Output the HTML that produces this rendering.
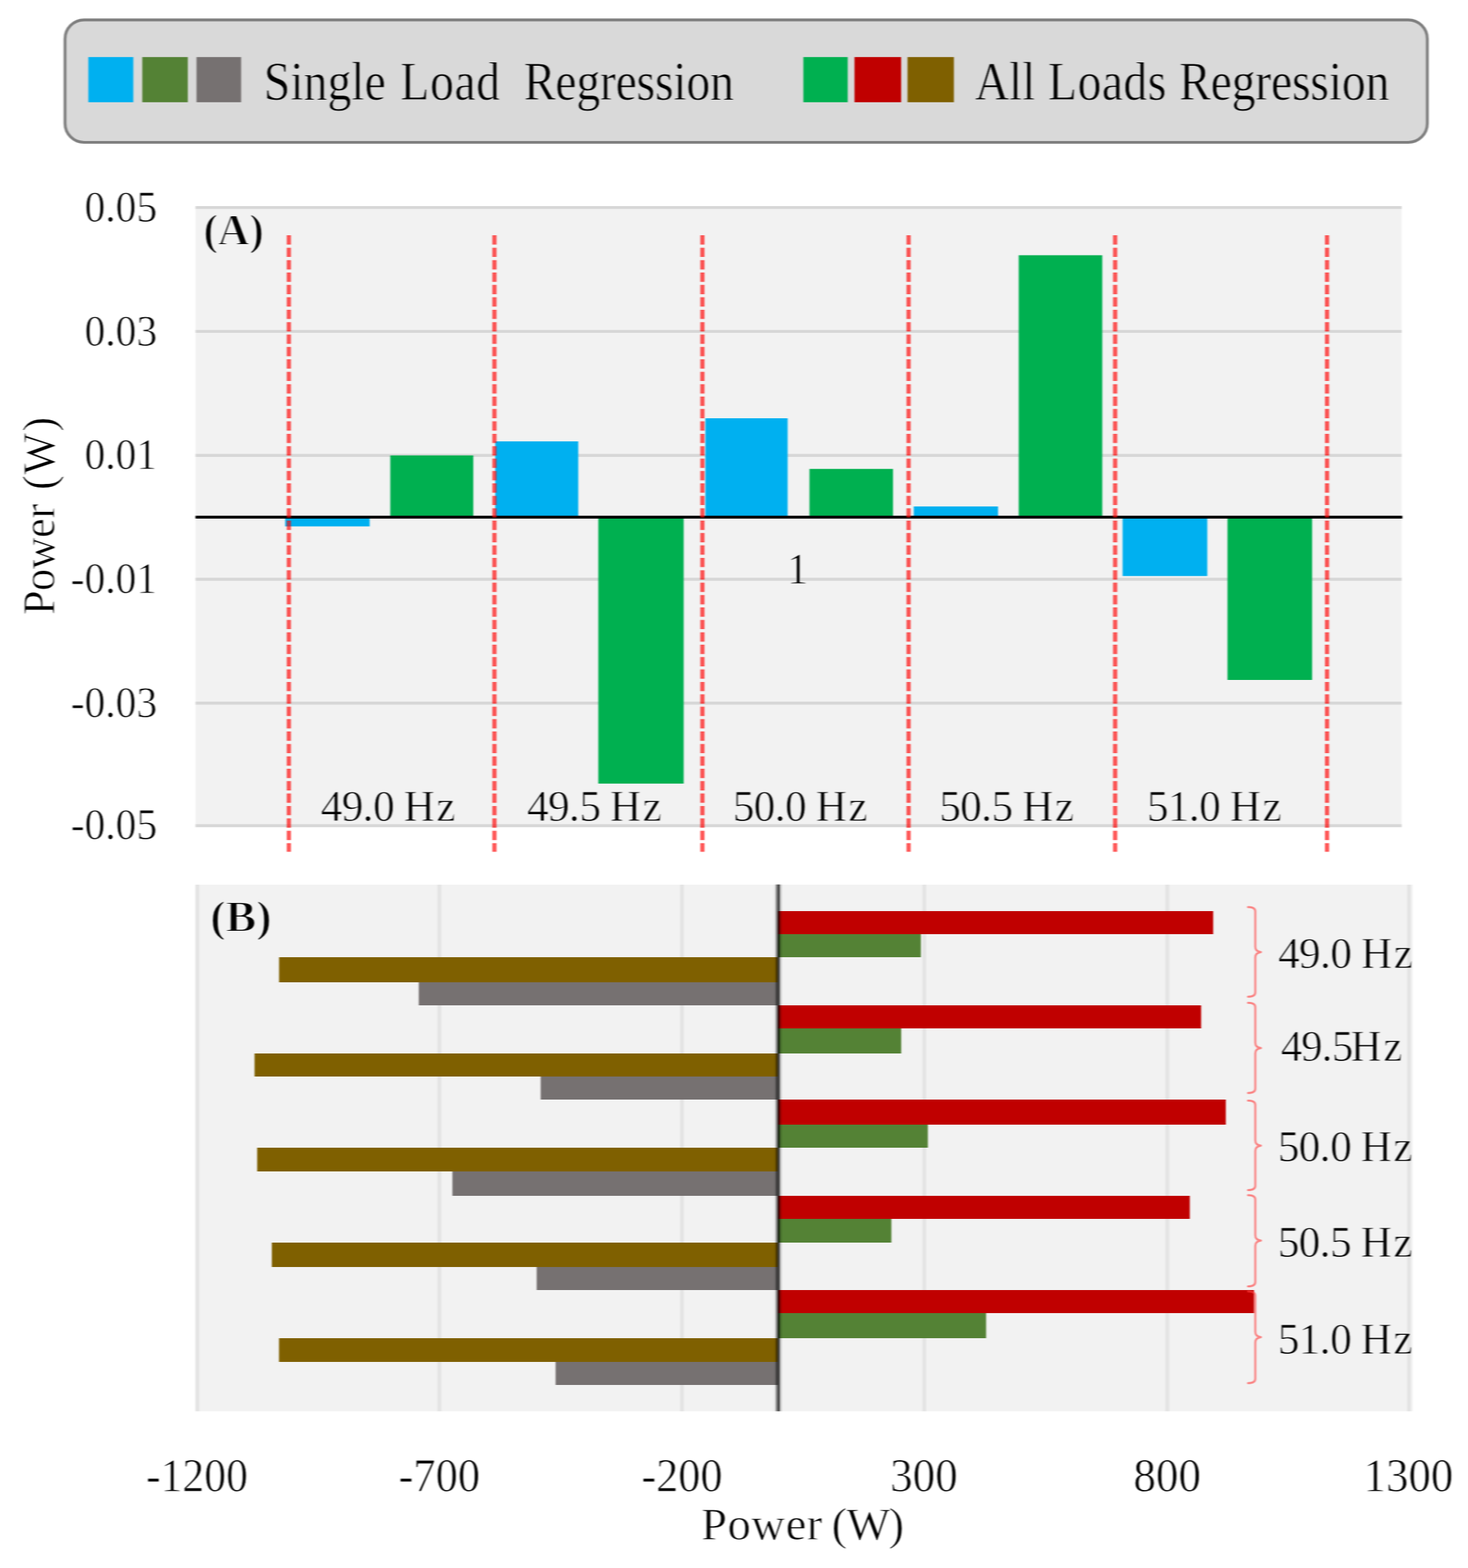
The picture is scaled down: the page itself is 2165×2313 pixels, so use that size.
<!DOCTYPE html>
<html lang="en">
<head>
<meta charset="utf-8">
<title>Single Load vs All Loads Regression</title>
<style>
html,body{margin:0;padding:0;background:#fff;}
body{width:2165px;height:2313px;overflow:hidden;}
svg text{white-space:pre;}
</style>
</head>
<body>
<svg width="2165" height="2313" viewBox="0 0 2165 2313" font-family="'Liberation Serif', serif" style="display:block">
<defs><filter id="soft" filterUnits="userSpaceOnUse" x="0" y="0" width="2165" height="2313" color-interpolation-filters="sRGB"><feGaussianBlur stdDeviation="1.25 0.55"/></filter></defs>
<g filter="url(#soft)">
<rect x="-10" y="-10" width="2185" height="2333" fill="#fff"/>
<rect x="95.9" y="29.4" width="2009.10" height="180.60" rx="28" ry="28" fill="#D9D9D9" stroke="#7F7F7F" stroke-width="4.2"/>
<rect x="130.30" y="84.20" width="66.30" height="66.60" fill="#00B0F0" />
<rect x="209.80" y="84.20" width="67.20" height="66.60" fill="#548235" />
<rect x="289.80" y="84.20" width="65.80" height="66.60" fill="#767171" />
<rect x="1184.80" y="84.20" width="65.40" height="66.60" fill="#00B050" />
<rect x="1260.20" y="84.20" width="68.80" height="66.60" fill="#C00000" />
<rect x="1338.40" y="84.20" width="68.40" height="66.60" fill="#7F6000" />
<text transform="translate(0,147.30) scale(0.8771,1)" x="443.47 488.13 510.44 550.58 590.73 613.04 648.68 672.97 723.19 764.29 800.78 841.88 841.88 880.80 933.75 969.00 1008.69 1035.13 1070.37 1101.27 1132.17 1154.23 1193.93" font-size="80.30" fill="#000" stroke="#D9D9D9" stroke-width="1.0" xml:space="preserve">Single Load  Regression</text>
<text transform="translate(0,147.30) scale(0.8752,1)" x="1642.72 1700.26 1722.40 1744.54 1765.95 1815.91 1856.81 1893.11 1934.01 1965.84 1986.99 2040.11 2075.46 2115.29 2141.81 2177.16 2208.15 2239.15 2261.27 2301.10" font-size="80.30" fill="#000" stroke="#D9D9D9" stroke-width="1.0" xml:space="preserve">All Loads Regression</text>
<rect x="288.30" y="306.10" width="1778.90" height="913.40" fill="#F2F2F2" />
<line x1="288.3" y1="306.1" x2="2067.2" y2="306.1" stroke="#D7D7D7" stroke-width="4.4"/>
<line x1="288.3" y1="488.9" x2="2067.2" y2="488.9" stroke="#D7D7D7" stroke-width="4.4"/>
<line x1="288.3" y1="671.7" x2="2067.2" y2="671.7" stroke="#D7D7D7" stroke-width="4.4"/>
<line x1="288.3" y1="854.5" x2="2067.2" y2="854.5" stroke="#D7D7D7" stroke-width="4.4"/>
<line x1="288.3" y1="1037.3" x2="2067.2" y2="1037.3" stroke="#D7D7D7" stroke-width="4.4"/>
<line x1="288.3" y1="1218.0" x2="2067.2" y2="1218.0" stroke="#D7D7D7" stroke-width="4.4"/>
<rect x="420.60" y="762.90" width="124.60" height="13.60" fill="#00B0F0" />
<rect x="575.60" y="671.80" width="122.40" height="91.10" fill="#00B050" />
<rect x="730.40" y="651.10" width="122.40" height="111.80" fill="#00B0F0" />
<rect x="882.40" y="762.90" width="125.90" height="393.00" fill="#00B050" />
<rect x="1040.30" y="617.00" width="121.30" height="145.90" fill="#00B0F0" />
<rect x="1193.80" y="691.70" width="123.20" height="71.20" fill="#00B050" />
<rect x="1347.60" y="747.10" width="124.30" height="15.80" fill="#00B0F0" />
<rect x="1502.40" y="376.50" width="123.20" height="386.40" fill="#00B050" />
<rect x="1655.60" y="762.90" width="124.90" height="86.80" fill="#00B0F0" />
<rect x="1810.30" y="762.90" width="124.80" height="240.10" fill="#00B050" />
<line x1="288.3" y1="762.9" x2="2068.2" y2="762.9" stroke="#000" stroke-width="4.4"/>
<line x1="426.0" y1="347.1" x2="426.0" y2="1256.5" stroke="#FF0000" stroke-opacity="0.66" stroke-width="6.2" stroke-dasharray="13.7 4.6"/>
<line x1="729.2" y1="347.1" x2="729.2" y2="1256.5" stroke="#FF0000" stroke-opacity="0.66" stroke-width="6.2" stroke-dasharray="13.7 4.6"/>
<line x1="1035.9" y1="347.1" x2="1035.9" y2="1256.5" stroke="#FF0000" stroke-opacity="0.66" stroke-width="6.2" stroke-dasharray="13.7 4.6"/>
<line x1="1340.0" y1="347.1" x2="1340.0" y2="1256.5" stroke="#FF0000" stroke-opacity="0.66" stroke-width="6.2" stroke-dasharray="13.7 4.6"/>
<line x1="1644.6" y1="347.1" x2="1644.6" y2="1256.5" stroke="#FF0000" stroke-opacity="0.66" stroke-width="6.2" stroke-dasharray="13.7 4.6"/>
<line x1="1957.1" y1="347.1" x2="1957.1" y2="1256.5" stroke="#FF0000" stroke-opacity="0.66" stroke-width="6.2" stroke-dasharray="13.7 4.6"/>
<text transform="translate(124.75,326.90) scale(0.9320,1)" font-size="65.60" fill="#000" stroke="#fff" stroke-width="1.0" >0.05</text>
<text transform="translate(124.75,509.70) scale(0.9320,1)" font-size="65.60" fill="#000" stroke="#fff" stroke-width="1.0" >0.03</text>
<text transform="translate(124.67,692.30) scale(0.9320,1)" font-size="65.60" fill="#000" stroke="#fff" stroke-width="1.0" >0.01</text>
<text transform="translate(104.35,875.10) scale(0.9320,1)" font-size="65.60" fill="#000" stroke="#fff" stroke-width="1.0" >-0.01</text>
<text transform="translate(104.42,1057.70) scale(0.9320,1)" font-size="65.60" fill="#000" stroke="#fff" stroke-width="1.0" >-0.03</text>
<text transform="translate(104.42,1238.40) scale(0.9320,1)" font-size="65.60" fill="#000" stroke="#fff" stroke-width="1.0" >-0.05</text>
<text transform="translate(0,1210.70) scale(0.9728,1)" x="486.31 518.02 549.72 565.58 597.28 611.96 661.57" font-size="65.60" fill="#000" stroke="#F2F2F2" stroke-width="1.0" xml:space="preserve">49.0 Hz</text>
<text transform="translate(0,1210.70) scale(0.9728,1)" x="799.11 830.81 862.52 878.37 910.08 924.76 974.36" font-size="65.60" fill="#000" stroke="#F2F2F2" stroke-width="1.0" xml:space="preserve">49.5 Hz</text>
<text transform="translate(0,1210.70) scale(0.9732,1)" x="1110.53 1142.22 1173.91 1189.76 1221.45 1236.13 1285.71" font-size="65.60" fill="#000" stroke="#F2F2F2" stroke-width="1.0" xml:space="preserve">50.0 Hz</text>
<text transform="translate(0,1210.70) scale(0.9732,1)" x="1423.38 1455.07 1486.76 1502.60 1534.29 1548.97 1598.55" font-size="65.60" fill="#000" stroke="#F2F2F2" stroke-width="1.0" xml:space="preserve">50.5 Hz</text>
<text transform="translate(0,1210.70) scale(0.9732,1)" x="1738.05 1769.75 1801.44 1817.28 1848.97 1863.65 1913.23" font-size="65.60" fill="#000" stroke="#F2F2F2" stroke-width="1.0" xml:space="preserve">51.0 Hz</text>
<text transform="translate(1160.74,861.00) scale(0.9385,1)" font-size="66.50" fill="#000" stroke="#F2F2F2" stroke-width="1.0" >1</text>
<text transform="translate(299.91,361.20) scale(0.9803,1)" font-size="65.60" font-weight="bold" fill="#000" stroke="#F2F2F2" stroke-width="1.9" >(A)</text>
<text transform="translate(80.40,0) rotate(-90) scale(0.9774,1)" x="-928.24 -891.82 -859.09 -811.80 -782.74 -760.94 -739.47 -716.53 -651.52" font-size="66.80" fill="#000" stroke="#fff" stroke-width="1.0" xml:space="preserve">Power (W)</text>
<rect x="288.20" y="1305.00" width="1795.20" height="776.80" fill="#F2F2F2" />
<line x1="291.1" y1="1305.0" x2="291.1" y2="2081.8" stroke="#E4E4E4" stroke-width="5.6"/>
<line x1="648.05" y1="1305.0" x2="648.05" y2="2081.8" stroke="#E4E4E4" stroke-width="5.6"/>
<line x1="1005.8" y1="1305.0" x2="1005.8" y2="2081.8" stroke="#E4E4E4" stroke-width="5.6"/>
<line x1="1363.2" y1="1305.0" x2="1363.2" y2="2081.8" stroke="#E4E4E4" stroke-width="5.6"/>
<line x1="1721.6" y1="1305.0" x2="1721.6" y2="2081.8" stroke="#E4E4E4" stroke-width="5.6"/>
<line x1="2078.0" y1="1305.0" x2="2078.0" y2="2081.8" stroke="#E4E4E4" stroke-width="5.6"/>
<rect x="1147.00" y="1344.00" width="642.20" height="34.00" fill="#C00000" />
<rect x="1147.00" y="1378.00" width="211.10" height="34.00" fill="#548235" />
<rect x="411.60" y="1412.00" width="735.40" height="37.00" fill="#7F6000" />
<rect x="617.60" y="1449.00" width="529.40" height="34.00" fill="#767171" />
<rect x="1147.00" y="1483.00" width="624.40" height="34.00" fill="#C00000" />
<rect x="1147.00" y="1517.00" width="182.10" height="37.00" fill="#548235" />
<rect x="375.40" y="1554.00" width="771.60" height="34.00" fill="#7F6000" />
<rect x="797.40" y="1588.00" width="349.60" height="34.00" fill="#767171" />
<rect x="1147.00" y="1622.00" width="660.80" height="37.00" fill="#C00000" />
<rect x="1147.00" y="1659.00" width="221.40" height="34.00" fill="#548235" />
<rect x="379.30" y="1693.00" width="767.70" height="35.00" fill="#7F6000" />
<rect x="667.20" y="1728.00" width="479.80" height="36.00" fill="#767171" />
<rect x="1147.00" y="1764.00" width="607.70" height="34.00" fill="#C00000" />
<rect x="1147.00" y="1798.00" width="167.60" height="35.00" fill="#548235" />
<rect x="400.90" y="1833.00" width="746.10" height="36.00" fill="#7F6000" />
<rect x="791.50" y="1869.00" width="355.50" height="34.00" fill="#767171" />
<rect x="1147.00" y="1903.00" width="702.40" height="34.00" fill="#C00000" />
<rect x="1147.00" y="1937.00" width="307.30" height="37.00" fill="#548235" />
<rect x="411.50" y="1974.00" width="735.50" height="35.00" fill="#7F6000" />
<rect x="819.40" y="2009.00" width="327.60" height="34.00" fill="#767171" />
<rect x="1141.10" y="1304.70" width="2.90" height="777.10" fill="#000" fill-opacity="0.04"/>
<rect x="1144.00" y="1304.70" width="3.00" height="777.10" fill="#000" fill-opacity="0.45"/>
<rect x="1147.00" y="1304.70" width="2.95" height="777.10" fill="#000" fill-opacity="0.75"/>
<rect x="1149.95" y="1304.70" width="2.95" height="777.10" fill="#000" fill-opacity="0.17"/>
<path d="M1840.6,1337.9 Q1851.3,1337.9 1851.3,1344.4 L1851.3,1396.4 Q1851.3,1403.4 1859.6,1404.4 Q1851.3,1405.4 1851.3,1412.4 L1851.3,1463.8 Q1851.3,1470.3 1840.6,1470.3" fill="none" stroke="#FF4040" stroke-opacity="0.62" stroke-width="3" stroke-linecap="round" stroke-linejoin="round"/>
<path d="M1840.6,1479.3 Q1851.3,1479.3 1851.3,1485.8 L1851.3,1538.0 Q1851.3,1545.0 1859.6,1546.0 Q1851.3,1547.0 1851.3,1554.0 L1851.3,1605.7 Q1851.3,1612.2 1840.6,1612.2" fill="none" stroke="#FF4040" stroke-opacity="0.62" stroke-width="3" stroke-linecap="round" stroke-linejoin="round"/>
<path d="M1840.6,1623.6 Q1851.3,1623.6 1851.3,1630.1 L1851.3,1681.9 Q1851.3,1688.9 1859.6,1689.9 Q1851.3,1690.9 1851.3,1697.9 L1851.3,1748.9 Q1851.3,1755.4 1840.6,1755.4" fill="none" stroke="#FF4040" stroke-opacity="0.62" stroke-width="3" stroke-linecap="round" stroke-linejoin="round"/>
<path d="M1840.6,1763.0 Q1851.3,1763.0 1851.3,1769.5 L1851.3,1822.0 Q1851.3,1829.0 1859.6,1830.0 Q1851.3,1831.0 1851.3,1838.0 L1851.3,1890.9 Q1851.3,1897.4 1840.6,1897.4" fill="none" stroke="#FF4040" stroke-opacity="0.62" stroke-width="3" stroke-linecap="round" stroke-linejoin="round"/>
<path d="M1840.6,1905.0 Q1851.3,1905.0 1851.3,1911.5 L1851.3,1964.4 Q1851.3,1971.4 1859.6,1972.4 Q1851.3,1973.4 1851.3,1980.4 L1851.3,2033.8 Q1851.3,2040.3 1840.6,2040.3" fill="none" stroke="#FF4040" stroke-opacity="0.62" stroke-width="3" stroke-linecap="round" stroke-linejoin="round"/>
<text transform="translate(0,1427.70) scale(0.9757,1)" x="1931.94 1963.55 1995.16 2010.96 2042.57 2057.21 2106.66" font-size="65.40" fill="#000" stroke="#F2F2F2" stroke-width="1.0" xml:space="preserve">49.0 Hz</text>
<text transform="translate(0,1713.00) scale(0.9762,1)" x="1930.47 1962.06 1993.66 2009.46 2041.05 2055.68 2105.11" font-size="65.40" fill="#000" stroke="#F2F2F2" stroke-width="1.0" xml:space="preserve">50.0 Hz</text>
<text transform="translate(0,1853.50) scale(0.9762,1)" x="1930.41 1962.00 1993.60 2009.40 2040.99 2055.62 2105.05" font-size="65.40" fill="#000" stroke="#F2F2F2" stroke-width="1.0" xml:space="preserve">50.5 Hz</text>
<text transform="translate(0,1997.10) scale(0.9762,1)" x="1930.47 1962.06 1993.66 2009.46 2041.05 2055.68 2105.11" font-size="65.40" fill="#000" stroke="#F2F2F2" stroke-width="1.0" xml:space="preserve">51.0 Hz</text>
<text transform="translate(0,1565.10) scale(0.9639,1)" x="1959.63 1990.91 2022.18 2037.82 2066.59 2116.65" font-size="65.40" fill="#000" stroke="#F2F2F2" stroke-width="1.0" xml:space="preserve">49.5Hz</text>
<text transform="translate(309.93,1373.80) scale(1.0383,1)" font-size="65.60" font-weight="bold" fill="#000" stroke="#F2F2F2" stroke-width="1.9" >(B)</text>
<text transform="translate(215.59,2200.30) scale(0.9261,1)" font-size="69.40" fill="#000" stroke="#fff" stroke-width="1.0" >-1200</text>
<text transform="translate(587.74,2200.30) scale(0.9453,1)" font-size="69.40" fill="#000" stroke="#fff" stroke-width="1.0" >-700</text>
<text transform="translate(945.95,2200.30) scale(0.9404,1)" font-size="69.40" fill="#000" stroke="#fff" stroke-width="1.0" >-200</text>
<text transform="translate(1312.74,2200.30) scale(0.9572,1)" font-size="69.40" fill="#000" stroke="#fff" stroke-width="1.0" >300</text>
<text transform="translate(1671.51,2200.30) scale(0.9576,1)" font-size="69.40" fill="#000" stroke="#fff" stroke-width="1.0" >800</text>
<text transform="translate(2011.12,2200.30) scale(0.9514,1)" font-size="69.40" fill="#000" stroke="#fff" stroke-width="1.0" >1300</text>
<text transform="translate(0,2270.80) scale(1.0041,1)" x="1029.68 1068.54 1103.47 1153.92 1184.93 1208.20 1221.44 1243.27 1305.14" font-size="68.30" fill="#000" stroke="#fff" stroke-width="1.0" xml:space="preserve">Power (W)</text>
</g>
</svg>
</body>
</html>
